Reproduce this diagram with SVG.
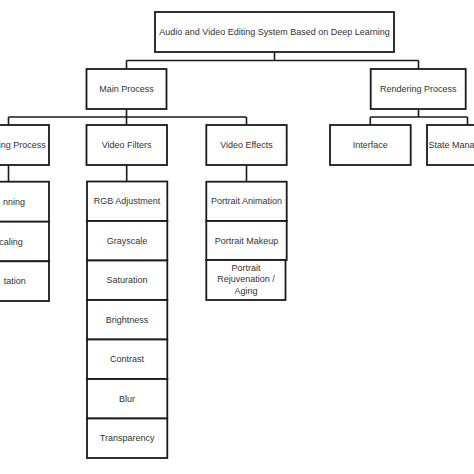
<svg xmlns="http://www.w3.org/2000/svg" width="474" height="474" viewBox="0 0 474 474">
<style>
.b{fill:#fff;stroke:#1a1a1a;stroke-width:1.8}
.c{fill:none;stroke:#1a1a1a;stroke-width:1.6}
text{font-family:"Liberation Sans",Arial,sans-serif;font-size:9px;fill:#333;text-anchor:middle}
.e{text-anchor:end}
.s{text-anchor:start}
</style>
<rect width="474" height="474" fill="#fff"/>
<g id="connectors" class="c">
<path d="M274.5 52V60.5M126.5 60.5H418.5M126.5 60.5V69M418.5 60.5V69"/>
<path d="M126.5 109V117M8.5 117H246.5M8.5 117V125M126.5 117V125M246.5 117V125"/>
<path d="M418.5 109V117M370.3 117H467.5M370.3 117V125M467.5 117V125"/>
<path d="M8.5 165V181.7M126.7 165V181.5M246.5 165V181.7"/>
</g>
<g id="root"><rect class="b" x="155" y="12" width="239" height="40"/><text x="274.5" y="35">Audio and Video Editing System Based on Deep Learning</text></g>
<g id="main"><rect class="b" x="86.5" y="69" width="80" height="40"/><text x="126.5" y="92">Main Process</text></g>
<g id="rendering"><rect class="b" x="370.7" y="69" width="95" height="40"/><text x="418.2" y="92">Rendering Process</text></g>
<g id="left-process"><rect class="b" x="-32" y="125" width="81" height="40"/><text class="e" x="45.7" y="148">ing Process</text></g>
<g id="video-filters"><rect class="b" x="86.5" y="125" width="80.5" height="40"/><text x="126.7" y="148">Video Filters</text></g>
<g id="video-effects"><rect class="b" x="206.3" y="125" width="80.4" height="40"/><text x="246.5" y="148">Video Effects</text></g>
<g id="interface"><rect class="b" x="330" y="125" width="80.7" height="40"/><text x="370.3" y="148">Interface</text></g>
<g id="state"><rect class="b" x="427" y="125" width="81" height="40"/><text class="s" x="428.5" y="148">State Mana</text></g>
<g id="panning"><rect class="b" x="-32" y="181.7" width="81" height="40"/><text class="e" x="25" y="204.7">nning</text></g>
<g id="scaling"><rect class="b" x="-32" y="221.7" width="81" height="39.6"/><text class="e" x="22.7" y="244.5">caling</text></g>
<g id="rotation"><rect class="b" x="-32" y="261.3" width="81" height="39.7"/><text class="e" x="25.7" y="284.2">tation</text></g>
<g id="rgb"><rect class="b" x="87" y="181.5" width="80.3" height="39.5"/><text x="127.1" y="204.3">RGB Adjustment</text></g>
<g id="grayscale"><rect class="b" x="87" y="221" width="80.3" height="39.5"/><text x="127.1" y="243.8">Grayscale</text></g>
<g id="saturation"><rect class="b" x="87" y="260.5" width="80.3" height="39.5"/><text x="127.1" y="283.3">Saturation</text></g>
<g id="brightness"><rect class="b" x="87" y="300" width="80.3" height="39.5"/><text x="127.1" y="322.8">Brightness</text></g>
<g id="contrast"><rect class="b" x="87" y="339.5" width="80.3" height="39.5"/><text x="127.1" y="362.3">Contrast</text></g>
<g id="blur"><rect class="b" x="87" y="379" width="80.3" height="39.5"/><text x="127.1" y="401.8">Blur</text></g>
<g id="transparency"><rect class="b" x="87" y="418.5" width="80.3" height="39.5"/><text x="127.1" y="441.3">Transparency</text></g>
<g id="portrait-animation"><rect class="b" x="206.3" y="181.7" width="80.4" height="39.3"/><text x="246.5" y="204.4">Portrait Animation</text></g>
<g id="portrait-makeup"><rect class="b" x="206.3" y="221" width="80.4" height="39"/><text x="246.5" y="243.5">Portrait Makeup</text></g>
<g id="portrait-rejuvenation"><rect class="b" x="206.3" y="260" width="79.2" height="40"/><text x="246" y="270.7">Portrait</text><text x="246" y="282.3">Rejuvenation /</text><text x="246" y="293.6">Aging</text></g>
</svg>
